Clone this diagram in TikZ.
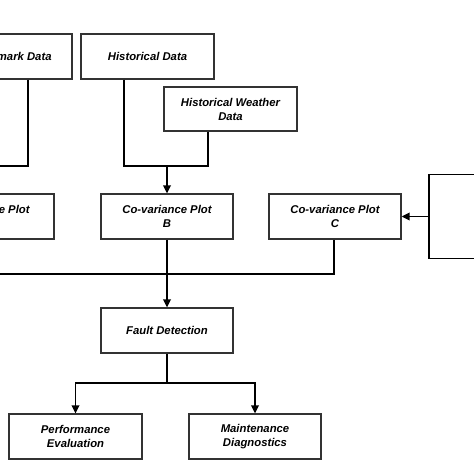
\documentclass[tikz,border=0pt]{standalone}
\usepackage{fontspec}
\setmainfont{Liberation Sans}
\usetikzlibrary{arrows.meta}
\begin{document}
\begin{tikzpicture}[x=1pt,y=-1pt,
 box/.style={draw=black!80, line width=1.2pt, fill=white, minimum width=133pt, minimum height=45pt, align=center, font=\fontsize{11.3}{14}\selectfont\bfseries\itshape, inner sep=0pt},
 conn/.style={line width=1.9pt, black},
 arr/.style={conn, -{Triangle[length=8pt,width=7.5pt]}}]
\useasboundingbox (0,0) rectangle (474,474);
\clip (0,0) rectangle (474,474);
\fill[white] (0,0) rectangle (474,474);
\node[box, minimum width=130pt] (bench) at (7,56.5) {Benchmark Data};
\node[box] (hist) at (147.5,56.5) {Historical Data};
\node[box, minimum height=44pt] (weather) at (230.5,109) {Historical Weather\\Data};
\node[box, minimum width=138pt] (A) at (-15,216.5) {Co-variance Plot\\A};
\node[box, minimum width=132pt] (B) at (167,216.5) {Co-variance Plot\\B};
\node[box, minimum width=132pt] (C) at (335,216.5) {Co-variance Plot\\C};
\node[box, draw=black, line width=1.9pt, minimum width=100pt, minimum height=84pt] (right) at (479,216.5) {};
\node[box, minimum width=132pt] (fault) at (167,330.5) {Fault Detection};
\node[box] (perf) at (75.5,436.5) {Performance\\Evaluation};
\node[box, minimum width=132pt] (maint) at (255,436.5) {Maintenance\\Diagnostics};
\coordinate (j1) at (28,166);
\coordinate (j2) at (124,166);
\coordinate (j3) at (208,166);
\coordinate (j4) at (334,274);
\coordinate (j5) at (167,383);
\draw[conn] (j1 |- bench.south) -- (j1) -| (A.north);
\draw[conn] (j2 |- hist.south) -- (j2) -- (j3) -- (j3 |- weather.south);
\draw[arr] (B.north |- j2) -- (B.north);
\draw[arr] (B.south) -- (fault.north);
\draw[conn] (A.south) |- (j4) -- (j4 |- C.south);
\draw[arr] (right.west) -- (C.east);
\draw[conn] (fault.south) -- (j5);
\draw[arr] (j5) -| (perf.north);
\draw[arr] (j5) -| (maint.north);
\end{tikzpicture}
\end{document}
